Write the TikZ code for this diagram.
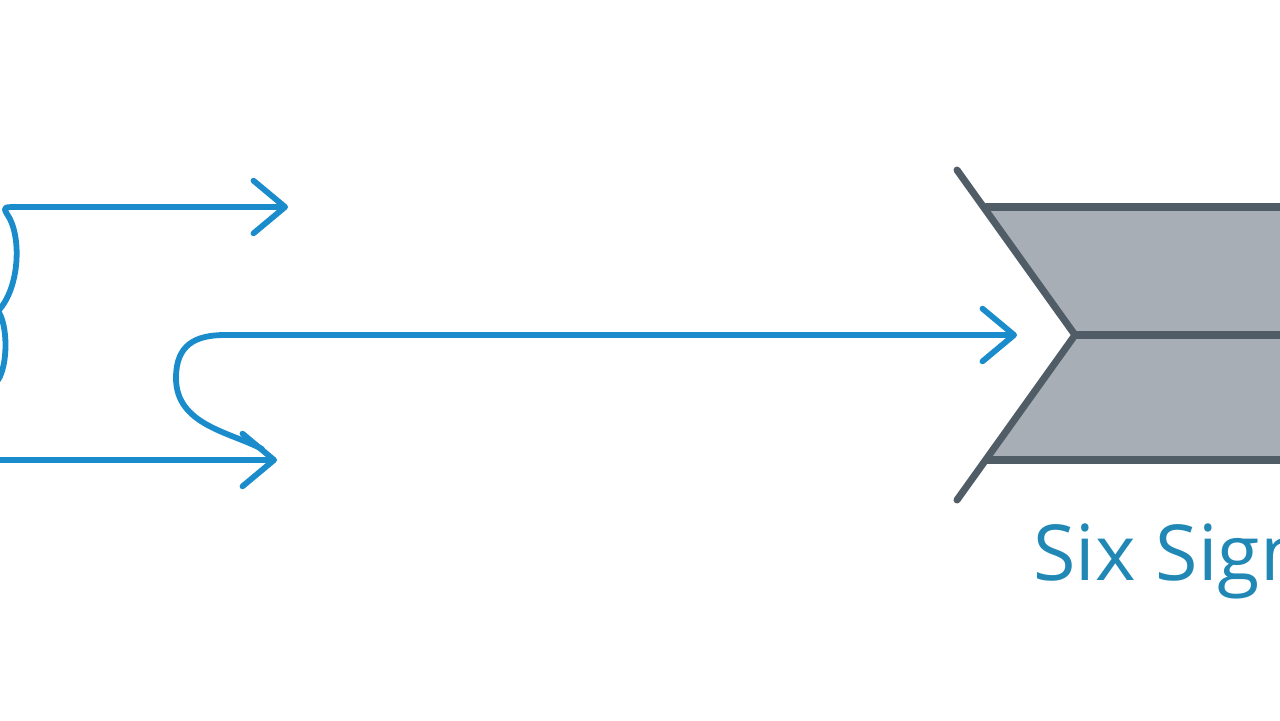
\documentclass[tikz,border=0pt]{standalone}
\usepackage{fontspec}
\setmainfont{Open Sans}
\usetikzlibrary{arrows.meta}
\definecolor{flowblue}{HTML}{1A8CCB}
\definecolor{slate}{HTML}{515D66}
\definecolor{panelgray}{HTML}{A7AEB6}
\definecolor{labelblue}{HTML}{2188B6}

\begin{document}
\begin{tikzpicture}[x=0.02cm, y=-0.02cm, line cap=round, line join=round,
    flow/.style={flowblue, line width=3.3pt},
    tip/.style={-{Straight Barb[length=18pt,width=30pt,round]}},
    edge/.style={slate, line width=4pt}]
    \useasboundingbox (0,0) rectangle (1280,720);
    \clip (0,0) rectangle (1280,720);
    % arrow ends and bends
    \coordinate (topTip) at (288,207);
    \coordinate (midTip) at (1017,335);
    \coordinate (lowTip) at (277,460);
    \coordinate (lowStart) at (-20,460);
    \coordinate (loopJoin) at (-2,311);
    \coordinate (loopCorner) at (7,214);
    \coordinate (sEnd) at (262,449);
    \coordinate (sTop) at (225,335);
    % blue flows
    \draw[flow,tip] (loopJoin) .. controls (20,288) and (22,235) .. (loopCorner)
        .. controls (3,207) .. (20,207) -- (topTip);
    \draw[flow] (loopJoin) .. controls (8,325) and (8,365) .. (-2,380);
    \draw[flow,tip] (lowStart) -- (lowTip);
    \draw[flow] (sEnd) .. controls (230,432) and (176,425) .. (176,378)
        .. controls (176,345) and (195,335) .. (sTop);
    \draw[flow,tip] (sTop) -- (midTip);
    % chevron panel
    \coordinate (vTop) at (957,170);
    \coordinate (vMid) at (1075,335);
    \coordinate (vLow) at (957,500);
    \fill[panelgray] (984,207) -- (1290,207) -- (1290,335) -- (vMid) -- cycle;
    \fill[panelgray] (vMid) -- (1290,335) -- (1290,460) -- (986,460) -- cycle;
    \draw[edge] (986,207) -- (1290,207);
    \draw[edge] (vMid) -- (1290,335);
    \draw[edge] (987,460) -- (1290,460);
    \draw[edge] (vTop) -- (vMid) -- (vLow);
    \node[labelblue, font=\fontsize{44}{50}\selectfont, anchor=base west, inner sep=0pt] (brand) at (1033,580) {Six Sigma};
\end{tikzpicture}
\end{document}
